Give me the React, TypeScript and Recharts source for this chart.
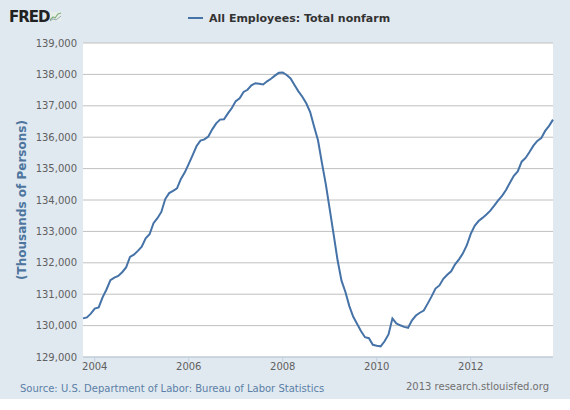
import { CartesianGrid, Line, LineChart, XAxis, YAxis } from 'recharts';

// All Employees: Total nonfarm, thousands of persons, monthly from Oct 2003
const START_YEAR = 2003;
const START_MONTH = 10;
const PAYEMS = [
    130230, 130260, 130380,
    130540, 130580, 130900, 131150, 131450, 131530, 131580, 131700, 131850, 132190, 132260, 132380,
    132510, 132780, 132910, 133260, 133420, 133620, 134030, 134220, 134290, 134370, 134670, 134880,
    135150, 135430, 135720, 135890, 135930, 136020, 136250, 136440, 136560, 136570, 136760, 136930,
    137150, 137240, 137440, 137510, 137650, 137720, 137700, 137680, 137780, 137860, 137960, 138050,
    138060, 137980, 137870, 137660, 137460, 137290, 137080, 136800, 136340, 135900, 135180, 134500,
    133700, 132900, 132080, 131430, 131070, 130620, 130280, 130050, 129820, 129630, 129600, 129390,
    129360, 129340, 129500, 129720, 130230, 130070, 130010, 129960, 129930, 130170, 130320, 130410,
    130480, 130700, 130930, 131180, 131280, 131490, 131620, 131730, 131950, 132110, 132300, 132560,
    132920, 133180, 133330, 133430, 133540, 133660, 133820, 133990, 134130, 134320, 134550, 134770,
    134910, 135220, 135340, 135530, 135730, 135880, 135970, 136200, 136360, 136560,
];
const X_TICKS = [2004, 2006, 2008, 2010, 2012];
const Y_TICKS = [129000, 130000, 131000, 132000, 133000, 134000, 135000, 136000, 137000, 138000, 139000];

const data = PAYEMS.map((v, i) => ({ t: START_YEAR + (START_MONTH - 1 + i) / 12, v }));

const FONT = '"DejaVu Sans", Verdana, sans-serif';
const LINE = '#4572a7';

export default function App() {
    return (
        <div style={{ position: 'absolute', left: 0, top: 0, width: 570, height: 410, background: '#ffffff', fontFamily: FONT }}>
            <div style={{ position: 'absolute', left: 0, top: 0, width: 570, height: 399, background: '#e1e9f0' }} />
            <div style={{ position: 'absolute', left: 0, top: 0 }}>
                <LineChart width={570} height={410} data={data} margin={{ top: 43, right: 17, bottom: 23, left: 0 }}>
                    <CartesianGrid horizontal vertical={false} stroke="#c0c0c0" fill="#ffffff" />
                    <XAxis
                        dataKey="t"
                        type="number"
                        domain={[2003.75, 2013.75]}
                        ticks={X_TICKS}
                        height={30}
                        tick={{ fontSize: 10, fill: '#606060', fontFamily: FONT }}
                        axisLine={{ stroke: '#c0d0e0' }}
                        tickLine={{ stroke: '#c0d0e0' }}
                        tickSize={5}
                        tickMargin={1}
                    />
                    <YAxis
                        type="number"
                        domain={[129000, 139000]}
                        ticks={Y_TICKS}
                        width={83}
                        tick={{ fontSize: 10, fill: '#606060', fontFamily: FONT }}
                        tickFormatter={(v: number) => v.toLocaleString('en-US')}
                        axisLine={false}
                        tickLine={false}
                        tickSize={4}
                        tickMargin={2}
                    />
                    <Line type="linear" dataKey="v" stroke={LINE} strokeWidth={2} dot={false} isAnimationActive={false} />
                </LineChart>
            </div>
            <svg width={570} height={410} style={{ position: 'absolute', left: 0, top: 0, pointerEvents: 'none' }}>
                <text x={9} y={22} fontSize={15} fontWeight={900} fill="#222" fontFamily={FONT} letterSpacing={-1}>FRED</text>
                <g transform="translate(50,12)">
                    <rect x={0} y={0} width={11} height={9} fill="#e8efe8" />
                    <polyline points="0,8 3,5 5,6 8,2 11,1" fill="none" stroke="#7fae7f" strokeWidth={1.2} />
                    <polyline points="0,9 3,7 6,8 11,4" fill="none" stroke="#9aa8b8" strokeWidth={1} />
                </g>
                <line x1={188} y1={18} x2={203} y2={18} stroke={LINE} strokeWidth={2} />
                <text x={209} y={22} fontSize={11} fontWeight="bold" fill="#333333" fontFamily={FONT}>All Employees: Total nonfarm</text>
                <text
                    x={26}
                    y={200}
                    transform="rotate(-90 26 200)"
                    textAnchor="middle"
                    fontSize={12}
                    fontWeight="bold"
                    fill="#4d759e"
                    fontFamily={FONT}
                >
                    (Thousands of Persons)
                </text>
                <text x={20} y={392} fontSize={10} fill="#5b7fa6" fontFamily={FONT}>Source: U.S. Department of Labor: Bureau of Labor Statistics</text>
                <text x={549} y={390} textAnchor="end" fontSize={10} fill="#707070" fontFamily={FONT}>2013 research.stlouisfed.org</text>
            </svg>
        </div>
    );
}
